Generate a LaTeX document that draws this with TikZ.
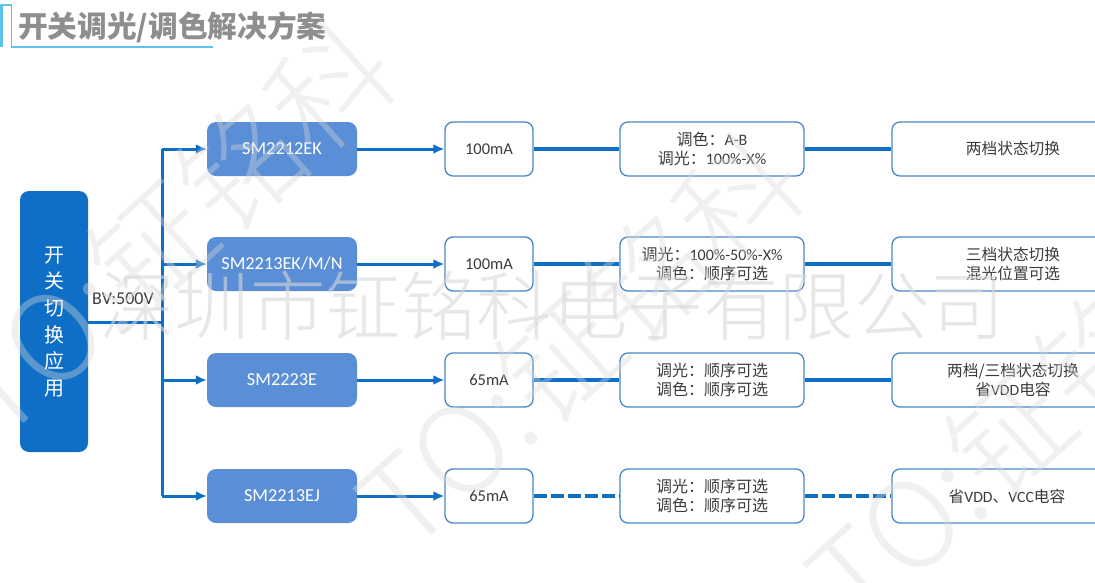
\documentclass[tikz,border=0pt]{standalone}
\usepackage{fontspec}
\setmainfont{Carlito}
\newfontfamily\cjk{Noto Sans CJK SC}
\newfontfamily\cjklight{Noto Sans CJK SC Light}
\newcommand{\zh}[1]{{\cjk #1}}
\usetikzlibrary{arrows.meta}
\definecolor{linecol}{HTML}{0F6FC6}
\definecolor{chipcol}{HTML}{5A8FD7}
\definecolor{edgecol}{HTML}{4A86C5}
\definecolor{txtcol}{HTML}{3C3C3C}
\definecolor{barcol}{HTML}{5CC3EA}
\definecolor{titlecol}{HTML}{8E8E8E}
\definecolor{wmcol}{HTML}{D8D8D8}
\tikzset{
 mainbox/.style={draw=none,fill=linecol,rounded corners=9pt,text=white,minimum width=68pt,minimum height=261pt,align=center,inner sep=0pt},
 chip/.style={draw=none,fill=chipcol,rounded corners=9pt,text=white,minimum width=150pt,minimum height=54pt,font=\fontsize{18.3}{20}\selectfont,inner sep=0pt},
 cur/.style={draw=edgecol,line width=1.3pt,fill=white,rounded corners=8pt,text=txtcol,minimum width=88pt,minimum height=54pt,font=\fontsize{16.5}{18}\selectfont,inner sep=0pt},
 mode/.style={draw=edgecol,line width=1.3pt,fill=white,rounded corners=8pt,text=txtcol,minimum width=184pt,minimum height=54pt,align=center,font=\fontsize{16}{19}\selectfont,inner sep=0pt},
 feat/.style={draw=edgecol,line width=1.3pt,fill=white,rounded corners=8pt,text=txtcol,minimum width=220pt,minimum height=54pt,inner sep=0pt},
 feattext/.style={text=txtcol,font=\fontsize{15.7}{19}\selectfont,align=center,inner sep=0pt},
 busline/.style={draw=linecol,line width=3pt},
 arr/.style={draw=linecol,line width=3pt,-{Latex[length=11pt,width=10pt]}},
 link/.style={draw=linecol,line width=3.4pt},
 rowfour/.style={draw=linecol,line width=3.2pt,dash pattern=on 13pt off 4pt},
 wm/.style={text=wmcol,opacity=.6,inner sep=0pt},
 wmd/.style={text=wmcol,opacity=.38,inner sep=0pt,font=\cjklight\fontsize{120}{120}\selectfont,rotate=42},
}
\begin{document}
\begin{tikzpicture}[x=1pt,y=-1pt]
\useasboundingbox (0,0) rectangle (1095,582);
\fill[white] (0,0) rectangle (1095,582);
% title
\draw[barcol,line width=1.2pt] (1,47) -- (1,5) -- (11.5,5) -- (11.5,47) -- (213,47);
\fill[barcol] (0,5) rectangle (2.5,47);
\node[text=titlecol,font=\cjk\bfseries\fontsize{29.7}{30}\selectfont,anchor=west,inner sep=0pt] (title) at (18,27) {开关调光/调色解决方案};
% nodes
\node[mainbox] (main) at (54,321.5) {};
\node[text=white,font=\cjk\fontsize{20}{26.7}\selectfont,align=center,inner sep=0pt] (mainlabel) at (54,322) {开\\关\\切\\换\\应\\用};
\node[chip] (c1) at (282,149) {SM2212EK};
\node[chip] (c2) at (282,264) {SM2213EK/M/N};
\node[chip] (c3) at (282,380) {SM2223E};
\node[chip] (c4) at (282,496) {SM2213EJ};
\node[cur] (a1) at (489,149) {100mA};
\node[cur] (a2) at (489,264) {100mA};
\node[cur] (a3) at (489,380) {65mA};
\node[cur] (a4) at (489,496) {65mA};
\node[mode] (m1) at (712,149) {\zh{调色：}A-B\\\zh{调光：}100\%-X\%};
\node[mode] (m2) at (712,264) {\zh{调光：}100\%-50\%-X\%\\\zh{调色：顺序可选}};
\node[mode] (m3) at (712,380) {\zh{调光：顺序可选}\\\zh{调色：顺序可选}};
\node[mode] (m4) at (712,496) {\zh{调光：顺序可选}\\\zh{调色：顺序可选}};
\node[feat] (f1) at (1002,149) {};
\node[feat] (f2) at (1002,264) {};
\node[feat] (f3) at (1002,380) {};
\node[feat] (f4) at (1002,496) {};
\node[feattext] (t1) at (1013,149) {\zh{两档状态切换}};
\node[feattext] (t2) at (1013,264) {\zh{三档状态切换}\\\zh{混光位置可选}};
\node[feattext] (t3) at (1013,380) {\zh{两档/三档状态切换}\\\zh{省}VDD\zh{电容}};
\node[feattext] (t4) at (1007,496) {\zh{省}VDD\zh{、}VCC\zh{电容}};
\node[text=txtcol,font=\fontsize{18}{20}\selectfont,inner sep=0pt] (bv) at (123,299) {BV:500V};
% connectors
\coordinate (bus) at (162,322);
\draw[busline] (main.east |- bus) -- (bus);
\draw[busline] (bus |- c1.west) -- (bus |- c4.west);
\foreach \n in {1,2,3,4} {
  \draw[arr] (bus |- c\n.west) -- (c\n.west);
  \draw[arr] (c\n.east) -- (a\n.west);
}
\foreach \n in {1,2,3} {
  \draw[link] (a\n.east) -- (m\n.west);
  \draw[link] (m\n.east) -- (f\n.west);
}
\draw[rowfour] (a4.east) -- (m4.west);
\draw[rowfour] (m4.east) -- (f4.west);
% watermark
\node[wm,font=\cjklight\fontsize{75.5}{76}\selectfont,anchor=west] (w0) at (99,306) {深圳市钲铭科电子有限公司};
\node[wmd] (w1) at (172,228) {TO:钲铭科};
\node[wmd] (w2) at (580,340) {TO:钲铭科};
\node[wmd] (w3) at (1030,415) {TO:钲铭科};
\end{tikzpicture}
\end{document}
